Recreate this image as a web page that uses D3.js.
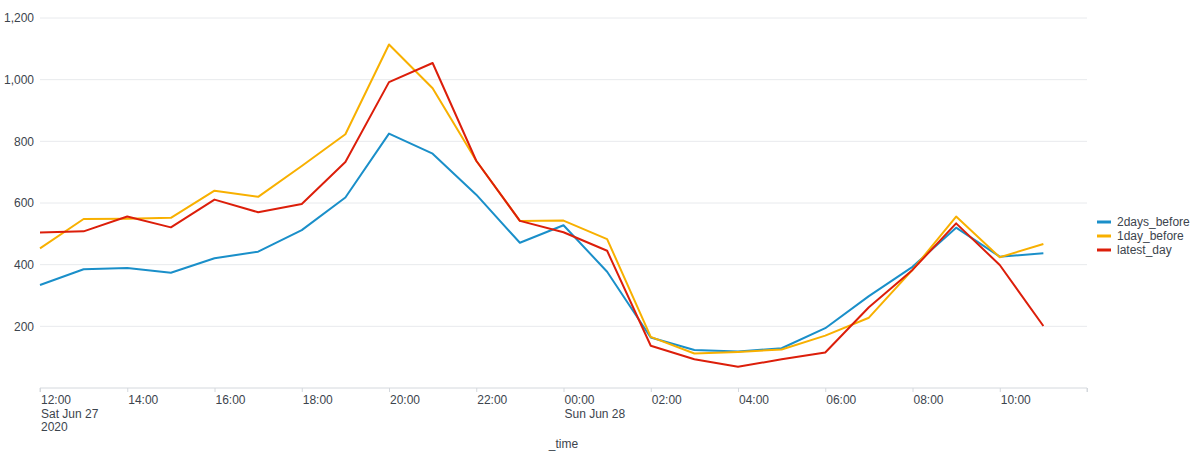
<!DOCTYPE html>
<html lang="en">
<head>
  <meta charset="UTF-8">
  <title>Events by hour</title>
  <script src="https://d3js.org/d3.v7.min.js"></script>
  <style>
    body { margin: 0; background: #fff; font-family: "Liberation Sans", Arial, sans-serif; }
    .grid line { stroke: #e8eaed; }
    .axis text { fill: #3c444d; font-size: 12px; }
    .legend text { fill: #3c444d; font-size: 12px; }
  </style>
</head>
<body>
  <svg width="1200" height="456"></svg>

  <script>
    // hourly points, Sat Jun 27 12:00 -> Sun Jun 28 11:00
    const hours = d3.range(24).map(i => new Date(2020, 5, 27, 12 + i));
    const twoDaysBefore = [334, 385, 389, 374, 421, 442, 512, 618, 825, 760, 627, 471,
                           528, 377, 164, 123, 118, 129, 194, 298, 393, 520, 426, 437];
    const oneDayBefore  = [453, 548, 549, 552, 640, 620, 720, 823, 1114, 972, 737, 542,
                           543, 483, 166, 112, 117, 125, 170, 228, 383, 556, 424, 467];
    const latestDay     = [504, 508, 556, 521, 611, 570, 597, 733, 992, 1054, 737, 542,
                           505, 445, 137, 93, 69, 93, 115, 262, 383, 534, 399, 201];
    const seriesNames = ["2days_before", "1day_before", "latest_day"];
    const yTicks = [200, 400, 600, 800, 1000, 1200];

    const series = [
      { name: seriesNames[0], values: twoDaysBefore, color: "#1a8fc9" },
      { name: seriesNames[1], values: oneDayBefore, color: "#f8b000" },
      { name: seriesNames[2], values: latestDay, color: "#dc1e0a" }
    ];

    const svg = d3.select("svg");
    const margin = { left: 40, right: 113, top: 18, bottom: 68 };
    const width = +svg.attr("width");
    const height = +svg.attr("height");

    const x = d3.scaleTime()
      .domain([new Date(2020, 5, 27, 12), new Date(2020, 5, 28, 12)])
      .range([margin.left, width - margin.right]);

    const y = d3.scaleLinear()
      .domain([0, 1200])
      .range([height - margin.bottom, margin.top]);

    // gridlines
    svg.append("g")
      .attr("class", "grid")
      .selectAll("line")
      .data(yTicks)
      .join("line")
      .attr("x1", margin.left)
      .attr("x2", width - margin.right)
      .attr("y1", d => y(d))
      .attr("y2", d => y(d));

    // y axis labels
    svg.append("g")
      .attr("class", "axis")
      .attr("transform", `translate(${margin.left},0)`)
      .call(d3.axisLeft(y).tickValues(yTicks).tickFormat(d3.format(",")).tickSize(0).tickPadding(6))
      .call(g => g.select(".domain").remove());

    // x axis
    const xTicks = d3.range(12).map(i => new Date(2020, 5, 27, 12 + i * 2));
    const xAxis = svg.append("g")
      .attr("class", "axis")
      .attr("transform", `translate(0,${y(0)})`)
      .call(d3.axisBottom(x).tickValues(xTicks.concat([x.domain()[1]])).tickSize(4).tickFormat(""));
    xAxis.select(".domain").attr("stroke", "#d4d8dd").attr("d", `M${margin.left},4V0H${width - margin.right}V4`);
    xAxis.selectAll(".tick line").attr("stroke", "#d4d8dd");

    const fmtHour = d3.timeFormat("%H:%M");
    const xLabels = svg.append("g").attr("class", "axis");
    xTicks.forEach(t => {
      const lines = [fmtHour(t)];
      if (+t === +xTicks[0]) lines.push("Sat Jun 27", "2020");
      if (t.getHours() === 0) lines.push("Sun Jun 28");
      const txt = xLabels.append("text")
        .attr("x", x(t) + 1)
        .attr("y", y(0) + 16);
      lines.forEach((l, i) => txt.append("tspan").attr("x", x(t) + 1).attr("dy", i ? 13.5 : 0).text(l));
    });

    svg.append("text")
      .attr("class", "axis")
      .attr("x", (margin.left + width - margin.right) / 2)
      .attr("y", 448)
      .attr("text-anchor", "middle")
      .attr("fill", "#3c444d")
      .attr("font-size", 12)
      .text("_time");

    // lines
    const line = d3.line()
      .x((d, i) => x(hours[i]))
      .y(d => y(d));

    svg.append("g")
      .selectAll("path")
      .data(series)
      .join("path")
      .attr("fill", "none")
      .attr("stroke", d => d.color)
      .attr("stroke-width", 2)
      .attr("stroke-linejoin", "round")
      .attr("d", d => line(d.values));

    // legend
    const legend = svg.append("g")
      .attr("class", "legend")
      .attr("transform", "translate(1097,222)");
    const item = legend.selectAll("g")
      .data(series)
      .join("g")
      .attr("transform", (d, i) => `translate(0,${i * 14})`);
    item.append("line")
      .attr("x1", 0).attr("x2", 14)
      .attr("stroke", d => d.color)
      .attr("stroke-width", 3);
    item.append("text")
      .attr("x", 20)
      .attr("dy", "0.35em")
      .text(d => d.name);
  </script>
</body>
</html>
